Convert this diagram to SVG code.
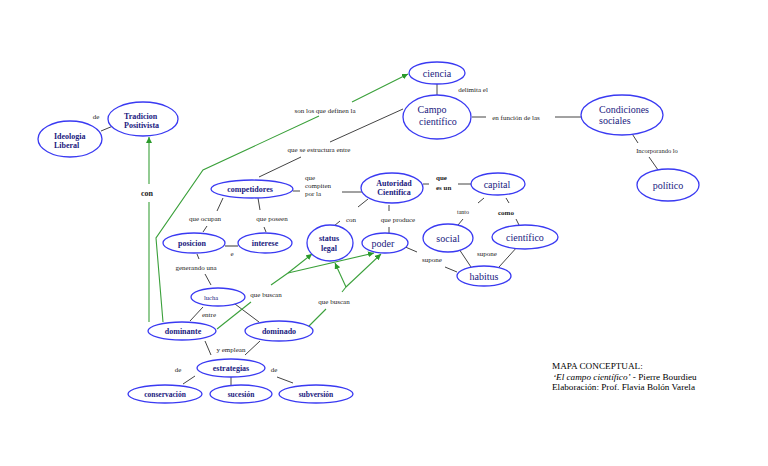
<svg xmlns="http://www.w3.org/2000/svg" width="768" height="466" viewBox="0 0 768 466">
<style>
.n ellipse{fill:#fff;stroke:#3a3af2;stroke-width:1.3}
.n text{font-family:"Liberation Serif",serif;fill:#1a1a80;text-anchor:middle}
.b text{font-weight:bold;font-size:8px}
.r text{font-size:10px}
.k line,.k polyline{stroke:#444;stroke-width:1;fill:none}
.g line,.g polyline{stroke:#3aa03a;stroke-width:1.1;fill:none}
.l{font-family:"Liberation Serif",serif;font-size:7px;fill:#222;text-anchor:middle}
.m{font-family:"Liberation Serif",serif;font-size:9.2px;fill:#000}
</style>
<defs>
<marker id="ar" markerUnits="userSpaceOnUse" markerWidth="7" markerHeight="7" refX="6" refY="3" orient="auto">
<path d="M0,0 L6,3 L0,6 z" fill="#2a9a2a"/>
</marker>
</defs>
<rect width="768" height="466" fill="#fff"/>
<g id="connectors">
<g class="k">
<line x1="437" y1="84" x2="437" y2="95"/>
<line x1="472" y1="117" x2="486" y2="117"/>
<line x1="555" y1="117" x2="581" y2="117"/>
<line x1="629" y1="129" x2="638" y2="143"/>
<line x1="649" y1="157" x2="663" y2="177"/>
<line x1="101" y1="131" x2="113" y2="126"/>
<line x1="259" y1="177" x2="301" y2="157"/>
<line x1="330" y1="142" x2="403" y2="109"/>
<line x1="293" y1="191" x2="300" y2="191"/>
<line x1="342" y1="192" x2="362" y2="192"/>
<line x1="423" y1="184" x2="429" y2="184"/>
<line x1="458" y1="184" x2="472" y2="184"/>
<line x1="484" y1="198" x2="478" y2="203"/>
<line x1="463" y1="219" x2="458" y2="225"/>
<line x1="506" y1="198" x2="509" y2="203"/>
<line x1="516" y1="219" x2="519" y2="225"/>
<line x1="457" y1="246" x2="471" y2="267"/>
<line x1="518" y1="246" x2="499" y2="267"/>
<line x1="403" y1="246" x2="417" y2="252"/>
<line x1="445" y1="267" x2="457" y2="272"/>
<line x1="368" y1="199" x2="358" y2="207"/>
<line x1="340" y1="221" x2="334" y2="226"/>
<line x1="389" y1="205" x2="389" y2="211"/>
<line x1="389" y1="227" x2="389" y2="233"/>
<line x1="223" y1="198" x2="217" y2="211"/>
<line x1="207" y1="226" x2="203" y2="232"/>
<line x1="258" y1="198" x2="260" y2="210"/>
<line x1="264" y1="227" x2="266" y2="232"/>
<line x1="225" y1="246" x2="238" y2="246" style="stroke:#999;stroke-width:2"/>
<line x1="197" y1="254" x2="199" y2="259"/>
<line x1="205" y1="274" x2="211" y2="285"/>
<line x1="203" y1="307" x2="190" y2="321"/>
<line x1="231" y1="301" x2="259" y2="322"/>
<line x1="205" y1="341" x2="211" y2="355"/>
<line x1="260" y1="341" x2="245" y2="355"/>
<line x1="195" y1="376" x2="183" y2="384"/>
<line x1="231" y1="377" x2="231" y2="385"/>
<line x1="277" y1="377" x2="293" y2="383"/>
</g>
<g class="g">
<line x1="149" y1="322" x2="149" y2="202"/>
<line x1="149" y1="184" x2="149" y2="137" marker-end="url(#ar)"/>
<polyline points="163,322 156,238 203,170 319,116"/>
<line x1="352" y1="102" x2="408" y2="74" marker-end="url(#ar)"/>
<line x1="217" y1="329" x2="251" y2="302"/>
<line x1="271" y1="285" x2="288" y2="273"/>
<line x1="288" y1="273" x2="312" y2="254" marker-end="url(#ar)"/>
<line x1="288" y1="273" x2="374" y2="253" marker-end="url(#ar)"/>
<line x1="308" y1="327" x2="326" y2="309"/>
<line x1="342" y1="292" x2="346" y2="287"/>
<line x1="346" y1="287" x2="335" y2="263" marker-end="url(#ar)"/>
<line x1="346" y1="287" x2="381" y2="254" marker-end="url(#ar)"/>
</g>
<g id="labels">
<text class="l" x="96" y="119">de</text>
<text class="l" x="147" y="195.5" style="font-size:8px;font-weight:bold">con</text>
<text class="l" x="325" y="112.5">son los que definen la</text>
<text class="l" x="473" y="91.5">delimita el</text>
<text class="l" x="319" y="151.5">que se estructura entre</text>
<text class="l" x="516" y="119.5">en función de las</text>
<text class="l" x="657" y="153" style="font-size:6.5px">Incorporando lo</text>
<text class="l" x="305" y="179.5" style="text-anchor:start">que</text>
<text class="l" x="305" y="187.5" style="text-anchor:start">compiten</text>
<text class="l" x="305" y="195.5" style="text-anchor:start">por la</text>
<text class="l" x="436" y="179.5" style="text-anchor:start;font-weight:bold">que</text>
<text class="l" x="436" y="189.5" style="text-anchor:start;font-weight:bold">es un</text>
<text class="l" x="463" y="214" style="font-size:6px">tanto</text>
<text class="l" x="506" y="214.5" style="font-weight:bold">como</text>
<text class="l" x="351" y="221.5">con</text>
<text class="l" x="398" y="221.5">que produce</text>
<text class="l" x="432" y="261.5">supone</text>
<text class="l" x="487" y="255.5">supone</text>
<text class="l" x="205" y="220.5">que ocupan</text>
<text class="l" x="272" y="220.5">que poseen</text>
<text class="l" x="232" y="255.5">e</text>
<text class="l" x="196" y="269.5">generando una</text>
<text class="l" x="266" y="296.5">que buscan</text>
<text class="l" x="209" y="316.5">entre</text>
<text class="l" x="334" y="303.5">que buscan</text>
<text class="l" x="231" y="351.5">y emplean</text>
<text class="l" x="178" y="371.5">de</text>
<text class="l" x="274" y="371.5">de</text>
</g>
</g>
<g id="ciencia" class="n r"><ellipse cx="437" cy="73" rx="28" ry="11"/><text x="437" y="76.5">ciencia</text></g>
<g id="campo" class="n r"><ellipse cx="437" cy="117" rx="34" ry="22"/><text x="432" y="112.5">Campo</text><text x="438" y="124.5">científico</text></g>
<g id="condiciones" class="n r"><ellipse cx="622" cy="115" rx="41" ry="20"/><text x="599" y="112.5" style="text-anchor:start">Condiciones</text><text x="599" y="123.5" style="text-anchor:start">sociales</text></g>
<g id="politico" class="n r"><ellipse cx="668" cy="185" rx="31" ry="16"/><text x="668" y="188.5">político</text></g>
<g id="tradicion" class="n b"><ellipse cx="143" cy="119" rx="35" ry="17"/><text x="124" y="118.5" style="text-anchor:start">Tradicion</text><text x="124" y="128" style="text-anchor:start">Positivista</text></g>
<g id="ideologia" class="n b"><ellipse cx="70" cy="139" rx="32" ry="18"/><text x="54" y="138.5" style="text-anchor:start">Ideologia</text><text x="54" y="147.5" style="text-anchor:start">Liberal</text></g>
<g id="competidores" class="n b"><ellipse cx="252" cy="189" rx="41" ry="9"/><text x="250" y="192">competidores</text></g>
<g id="autoridad" class="n b"><ellipse cx="392" cy="188" rx="31" ry="15"/><text x="394" y="186">Autoridad</text><text x="394" y="195">Cientifica</text></g>
<g id="capital" class="n r"><ellipse cx="498" cy="184" rx="27" ry="11"/><text x="497" y="187.5">capital</text></g>
<g id="status" class="n b"><ellipse cx="330" cy="243" rx="23" ry="18"/><text x="329" y="241">status</text><text x="329" y="251">legal</text></g>
<g id="poder" class="n r"><ellipse cx="385" cy="243" rx="23" ry="10"/><text x="383" y="246.5">poder</text></g>
<g id="social" class="n r"><ellipse cx="448" cy="238" rx="25" ry="14"/><text x="448" y="241.5">social</text></g>
<g id="cientifico" class="n r"><ellipse cx="525" cy="237" rx="33" ry="12"/><text x="525" y="240.5">científico</text></g>
<g id="habitus" class="n r"><ellipse cx="484" cy="276" rx="27" ry="10"/><text x="484" y="279.5">habitus</text></g>
<g id="posicion" class="n b"><ellipse cx="194" cy="243" rx="31" ry="10"/><text x="192" y="246">posicion</text></g>
<g id="interese" class="n b"><ellipse cx="265" cy="243" rx="27" ry="10"/><text x="265" y="246">interese</text></g>
<g id="lucha" class="n"><ellipse cx="218" cy="297" rx="27" ry="9"/><text x="211" y="299.5" style="font-size:6.5px">lucha</text></g>
<g id="dominante" class="n b"><ellipse cx="182" cy="331" rx="34" ry="9"/><text x="183" y="334">dominante</text></g>
<g id="dominado" class="n b"><ellipse cx="279" cy="331" rx="34" ry="10"/><text x="279" y="334">dominado</text></g>
<g id="estrategias" class="n b"><ellipse cx="231" cy="368" rx="34" ry="9"/><text x="231" y="371">estrategias</text></g>
<g id="conservacion" class="n b"><ellipse cx="165" cy="394" rx="37" ry="9"/><text x="165" y="397" style="font-size:7.5px">conservación</text></g>
<g id="sucesion" class="n b"><ellipse cx="241" cy="394" rx="31" ry="9"/><text x="241" y="397" style="font-size:7.5px">sucesión</text></g>
<g id="subversion" class="n b"><ellipse cx="316" cy="394" rx="37" ry="9"/><text x="316" y="397" style="font-size:7.5px">subversión</text></g>
<g id="title">
<text class="m" x="552" y="369">MAPA CONCEPTUAL:</text>
<text class="m" x="553" y="379.5"><tspan font-style="italic">‘El campo científico’</tspan> - Pierre Bourdieu</text>
<text class="m" x="552" y="390">Elaboración: Prof. Flavia Bolón Varela</text>
</g>
</svg>
